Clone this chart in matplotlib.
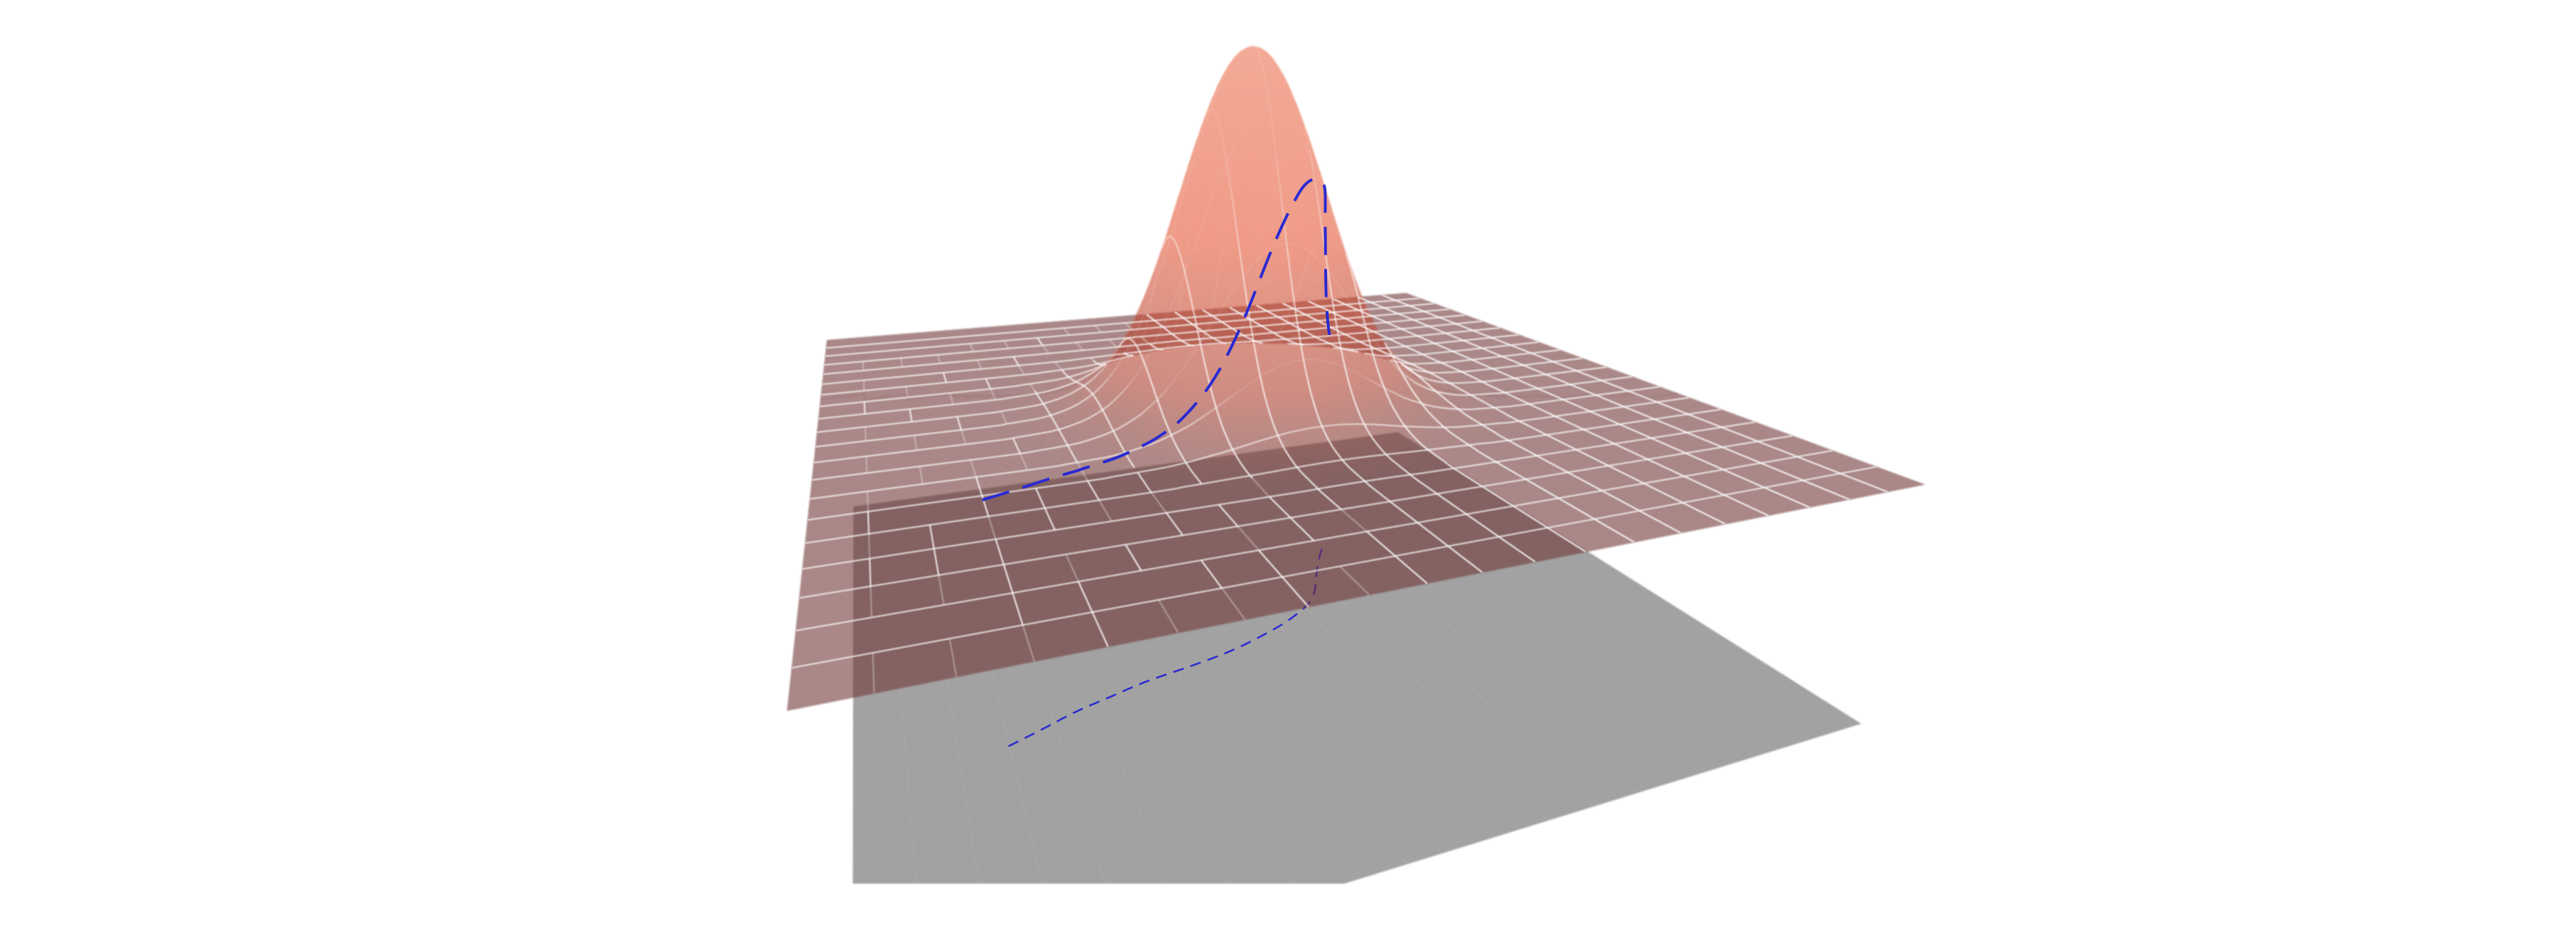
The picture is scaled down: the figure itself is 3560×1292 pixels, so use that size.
import numpy as np, matplotlib
matplotlib.use('Agg')
import matplotlib.pyplot as plt
from matplotlib.patches import Rectangle
from mpl_toolkits.mplot3d import proj3d
from mpl_toolkits.mplot3d.art3d import Poly3DCollection, Line3DCollection

# ---------- data ----------
RADIUS = [0, .02, .04, .06, .08, .10, .12, .14, .16, .18, .20, .22, .24, .26, .28, .30, .32, .34,
          .36, .38, .40, .44, .48, .52, .56, .60, .70, 1.5]
HEIGHT = [.802, .796, .780, .753, .718, .674, .625, .571, .515, .458, .401, .347, .296, .249, .207, .169, .136, .108,
          .085, .066, .050, .028, .015, .007, .004, .002, 0, 0]
PATH_X = [-.702, -.629, -.551, -.472, -.377, -.261, -.157, -.056, .044, .135, .20, .25, .301]
PATH_Y = [-.421, -.39, -.355, -.329, -.299, -.275, -.249, -.21, -.159, -.085, .03, .12, .199]
FLOOR_Z = -.5505
COLOR_Z = [0, .02, .1, .4, .8]
COLOR_R = [113, 130, 172, 230, 237]
COLOR_G = [55, 58, 63, 88, 113]
COLOR_B = [55, 52, 47, 55, 80]
# visibility of the depth-running mesh lines per cell, front to back, x = -0.9 ... -0.1
DEPTH_VIS = {
    1: "+.+#+#+.+.+.#.+.+...",
    2: "+.+##..+.+.#.+..+...",
    3: "+###+##+.+#.+.#.+...",
    4: "##+.##.+#.+.+#.+.+..",
    5: "+.#.+#+#.+#.+.+#.+..",
    6: "+#.#+#.##+.+.#+.+#..",
    7: "##+#.###+#+#.#+.+.+.",
    8: "+.##+####+##+##.+.+.",
    9: "##+#######+###+#+.+.",
}

W, H = 3560, 1292
fig = plt.figure(figsize=(W / 100, H / 100), dpi=100, facecolor='white')
size, cx, cy = 2751.06, 1694.66, 659.639
ax = fig.add_axes([(cx - size / 2) / W, 1 - (cy + size / 2) / H, size / W, size / H],
                  projection='3d', computed_zorder=False)
ELEV, AZIM = 20.5088, -111.18
ax.view_init(elev=ELEV, azim=AZIM)
ax.set_proj_type('persp', focal_length=.0896646)
zc = -.143554
ax.set_xlim(-1.5, 1.5); ax.set_ylim(-1.5, 1.5); ax.set_zlim(zc - 1.5, zc + 1.5)
ax.set_box_aspect((1, 1, 1))
ax.set_axis_off()
ax.autoscale(False)
ax.apply_aspect()


def blur(rgba, r=1):
    p = np.zeros((rgba.shape[0] + 2 * r, rgba.shape[1] + 2 * r, 4))
    p[r:-r, r:-r] = rgba
    p[..., :3] *= p[..., 3:]
    k = {-1: .25, 0: .5, 1: .25}
    for axis in (0, 1):
        p = sum(w * np.roll(p, s, axis=axis) for s, w in k.items())
    a = np.maximum(p[..., 3:], 1e-6)
    p[..., :3] = np.clip(p[..., :3] / a, 0, 1)
    return p


# the 3D collections run their filter twice, so each pass takes the root of the opacity
def soft(opacity):
    def f(img, dpi):
        out = blur(img)
        out[..., 3] *= np.sqrt(opacity)
        return out, -1, -1
    return f


def catmull(v, n=10):
    v = np.r_[2 * v[0] - v[1], v, 2 * v[-1] - v[-2]]
    out = []
    for i in range(1, len(v) - 2):
        for t in np.linspace(0, 1, n, endpoint=False):
            out.append(.5 * (2 * v[i] + (v[i + 1] - v[i - 1]) * t + (2 * v[i - 1] - 5 * v[i] + 4 * v[i + 1] - v[i + 2]) * t ** 2
                             + (3 * v[i] - v[i - 1] - 3 * v[i + 1] + v[i + 2]) * t ** 3))
    out.append(v[-2])
    return np.array(out)


# smooth radial profile through the values
smooth_r = catmull(np.array(RADIUS, float), 6)
smooth_h = np.clip(catmull(np.array(HEIGHT, float), 6), 0, None)
keep = np.r_[True, np.diff(smooth_r) > 0]
smooth_r, smooth_h = smooth_r[keep], smooth_h[keep]


def height(r):
    return np.interp(r, smooth_r, smooth_h)


axis = np.unique(np.round(np.r_[np.arange(-1, -.69, .1), np.arange(-.7, .7001, .0125), np.arange(.7, 1.001, .1)], 5))
X, Y = np.meshgrid(axis, axis, indexing='ij')
Z = height(np.hypot(X, Y))
M = ax.get_proj()
px, py, _ = proj3d.proj_transform(X.ravel(), Y.ravel(), Z.ravel(), M)
px = px.reshape(X.shape); py = py.reshape(X.shape)
# signed area of each quad on screen: positive when it faces the camera
area = 0.5 * ((px[1:, 1:] - px[:-1, :-1]) * (py[:-1, 1:] - py[1:, :-1])
              - (py[1:, 1:] - py[:-1, :-1]) * (px[:-1, 1:] - px[1:, :-1]))
front = area > 0
Xm = .25 * (X[1:, 1:] + X[:-1, 1:] + X[1:, :-1] + X[:-1, :-1])
Ym = .25 * (Y[1:, 1:] + Y[:-1, 1:] + Y[1:, :-1] + Y[:-1, :-1])
Zm = .25 * (Z[1:, 1:] + Z[:-1, 1:] + Z[1:, :-1] + Z[:-1, :-1])
az = np.deg2rad(AZIM)
toward = Xm * np.cos(az) + Ym * np.sin(az)
far = front & (toward < 0) & (np.hypot(Xm, Ym) > .3)
near = (front & ~far) | (np.hypot(Xm, Ym) < .08)
cols = np.c_[np.interp(Zm.ravel(), COLOR_Z, COLOR_R), np.interp(Zm.ravel(), COLOR_Z, COLOR_G),
             np.interp(Zm.ravel(), COLOR_Z, COLOR_B)].reshape(Zm.shape + (3,)) / 255


def layer(mask, zorder):
    I, J = np.nonzero(mask)
    quads = np.stack([np.stack([X[I, J], Y[I, J], Z[I, J]], -1),
                      np.stack([X[I + 1, J], Y[I + 1, J], Z[I + 1, J]], -1),
                      np.stack([X[I + 1, J + 1], Y[I + 1, J + 1], Z[I + 1, J + 1]], -1),
                      np.stack([X[I, J + 1], Y[I, J + 1], Z[I, J + 1]], -1)], 1)
    c = cols[I, J]
    pc = Poly3DCollection(quads, facecolors=c, edgecolors=c, linewidths=.6, zorder=zorder)
    pc.set_agg_filter(soft(.6))
    ax.add_collection3d(pc, autolim=False)


# floor
clip = Rectangle((0, 1 - 1221 / H), 1, 1221 / H, transform=fig.transFigure)
fx = np.array([-1, 1, 1, -1.]); fy = np.array([-1, -1, 1, 1.])
floor = Poly3DCollection([np.c_[fx, fy, np.full(4, FLOOR_Z)]], facecolors='#a2a2a2', edgecolors='none', zorder=1)
floor.set_agg_filter(soft(1))
ax.add_collection3d(floor, autolim=False)
floor.set_clip_path(clip)
ff = []
for v in np.arange(-.9, .91, .1):
    ff.append([(v, -1, FLOOR_Z), (v, 1, FLOOR_Z)])
fl = Line3DCollection(ff, colors=[(1, 1, 1, .05)], linewidths=1.2, zorder=1.2)
ax.add_collection3d(fl, autolim=False)
fl.set_clip_path(clip)

layer(far, 2)
layer(near, 3)

# mesh lines
seg = []; rgba = []
lines_at = [np.argmin(abs(axis - v)) for v in np.round(np.arange(-.9, .91, .1), 5)]
fade = lambda z: np.interp(z, [0, .3, .6], [.8, .6, .1])
fade_row = lambda z: np.interp(z, [0, .04, .12, .8], [.7, .6, .1, .05])
for n, i in enumerate(lines_at, start=1):
    for j in range(len(axis) - 1):
        ymid = .5 * (axis[j] + axis[j + 1])
        vis = 1.
        if n in DEPTH_VIS:
            ch = DEPTH_VIS[n][min(int((ymid + 1) / .1), 19)]
            if np.hypot(axis[i], ymid) > .55:
                vis = {'#': 1., '+': .4, '.': 0.}[ch]
        fr = (front[i - 1, j] or front[i, j])
        a = fade(.5 * (Z[i, j] + Z[i, j + 1])) * vis * (1 if fr else .1)
        if a > 0:
            seg.append([(axis[i], axis[j], Z[i, j]), (axis[i], axis[j + 1], Z[i, j + 1])])
            rgba.append((1, 1, 1, a))
    # rows running along x
    for k in range(len(axis) - 1):
        fr = (front[k, i - 1] or front[k, i])
        a = fade_row(.5 * (Z[k, i] + Z[k + 1, i])) * (1 if fr else .1)
        seg.append([(axis[k], axis[i], Z[k, i]), (axis[k + 1], axis[i], Z[k + 1, i])])
        rgba.append((1, 1, 1, a))
mesh = Line3DCollection(seg, colors=rgba, linewidths=1.6, zorder=4)
mesh.set_agg_filter(soft(1))
ax.add_collection3d(mesh, autolim=False)

# dashed path and its shadow
sx, sy = catmull(np.array(PATH_X)), catmull(np.array(PATH_Y))
sz = height(np.hypot(sx, sy))
l1, = ax.plot(sx, sy, np.full_like(sx, FLOOR_Z), color='#2b2bd0', lw=1.8, ls=(0, (6, 4)), zorder=1.5)
l2, = ax.plot(sx, sy, sz, color='#2a2ad2', lw=2.8, ls=(0, (10, 5)), zorder=5)

ax.set_xlim(-1.5, 1.5); ax.set_ylim(-1.5, 1.5); ax.set_zlim(zc - 1.5, zc + 1.5)
fig.savefig('out.png', dpi=100, facecolor='white')
